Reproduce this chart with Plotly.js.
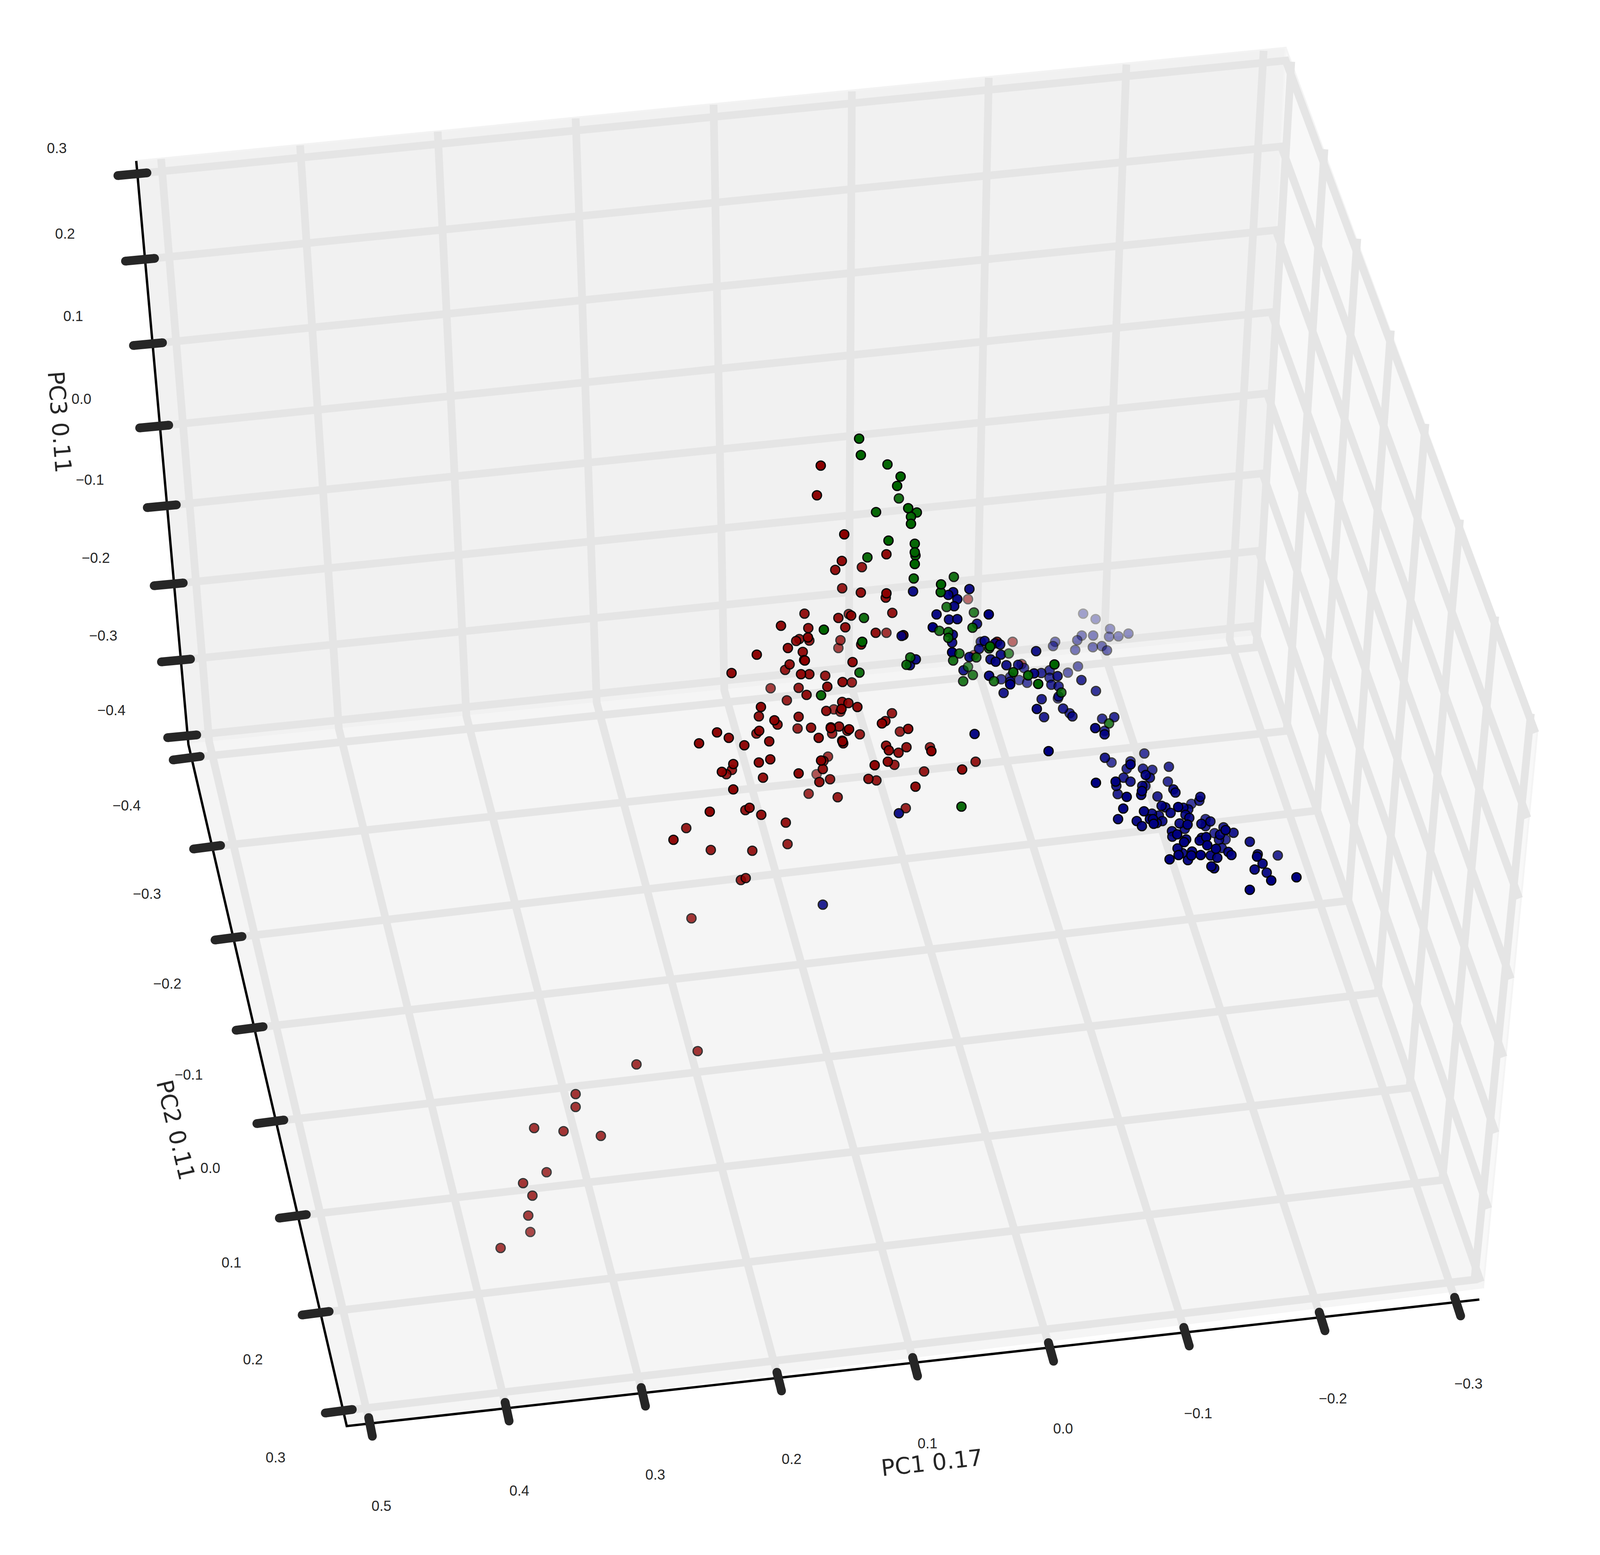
<!DOCTYPE html>
<html>
<head>
<meta charset="utf-8">
<script src="https://cdn.plot.ly/plotly-3.0.1.min.js"></script>
<style>html,body{margin:0;padding:0;background:#fff;overflow:hidden}</style>
</head>
<body>
<div id="chart"></div>
<script>
// Each row: [view-plane x, view-plane y, depth shade]
const redPoints = [
[2374,1192,1],[2363,1268,.97],[2442,1368,1],[2564,1419,.95],[2435,1436,.95],[2416,1459,.92],[2493,1452,.88],[2436,1506,.88],
[2490,1517,.92],[2564,1519,1],[2562,1530,.92],[2581,1569,.9],[2327,1571,.9],[2425,1582,.92],[2455,1572,.8],[2462,1576,.92],
[2445,1606,.92],[2338,1608,.92],[2259,1602,.95],[2533,1620,.92],[2564,1620,.78],[2613,1626,1],[2431,1639,.8],[2425,1659,.72],
[2303,1641,.9],[2312,1636,.88],[2337,1632,.97],[2341,1640,.88],[2279,1659,.95],[2322,1669,.92],[2491,1650,.92],
[2800,1534,.55],[2929,1643,.55],[2884,1643,.9],[2817,1677,.6],[2955,1700,.6],[2690,1913,.85],[2694,1923,1],[2822,1950,.88],
[2328,1691,1],[2326,1690,.95],[2189,1676,.97],[2116,1723,.95],[2284,1701,.92],[2271,1715,.88],[2317,1726,.95],[2341,1726,.92],
[2466,1695,.95],[2387,1730,.88],[2437,1746,.95],[2464,1747,.85],[2393,1758,.95],[2229,1762,.75],[2310,1761,.88],[2333,1779,.92],
[2276,1793,.85],[2436,1797,.92],[2454,1800,.92],[2480,1810,.95],[2390,1820,.92],[2412,1816,.78],[2431,1822,.8],[2434,1815,.97],
[2201,1810,.97],[2195,1834,.92],[2240,1844,.97],[2249,1855,.92],[2310,1835,.92],[2307,1865,.85],[2346,1863,.92],[2403,1864,1],
[2403,1862,.95],[2427,1860,.92],[2407,1878,.85],[2451,1871,.88],[2456,1867,.97],[2487,1880,.88],[2580,1826,.88],[2561,1846,.92],
[2551,1852,.97],[2603,1873,.85],[2627,1866,.95],[2074,1875,.97],[2108,1889,.95],[2022,1903,.97],[2188,1878,.88],[2196,1871,.95],
[2153,1908,.95],[2225,1898,.95],[2368,1889,.95],[2436,1896,.88],[2439,1903,.92],[2437,1898,.98],[2563,1909,.92],[2571,1921,.95],
[2599,1927,.92],[2622,1913,.92],[2568,1950,.95],[2587,1958,.88],[2530,1959,.97],[2395,1937,.78],[2382,1948,.85],[2375,1947,.98],
[2380,1969,.92],[2362,1982,.65],[2310,1980,.97],[2370,2002,.92],[2401,1995,.88],[2512,1994,.92],[2535,1998,.88],[2339,2032,.8],
[2423,2041,.88],[2121,1956,.95],[2117,1971,.88],[2088,1976,.97],[2101,1982,.88],[2195,1952,.95],[2228,1944,.95],[2207,1991,.92],
[2121,2021,.97],[2053,2078,.97],[2156,2074,.9],[2168,2068,.95],[2202,2086,.92],[2273,2106,.9],[1985,2120,.88],[1948,2150,.95],
[2783,1970,.95],[2673,1975,.88],[2648,2014,.95],[2620,2069,.85],[2056,2176,.88],[2176,2178,.88],[2278,2161,.85],[2143,2253,.85],
[2157,2248,.88],[2000,2351,.78],[2018,2691,.78],[1841,2725,.78],[1665,2801,.78],[1665,2834,.78],[1545,2888,.78],[1630,2896,.78],
[1738,2908,.78],[1581,3001,.75],[1513,3029,.78],[1540,3061,.78],[1528,3112,.75],[1534,3154,.7],[1448,3195,.75]
];
const greenPoints = [
[2485,1123,1],[2490,1165,1],[2567,1189,.97],[2605,1220,1],[2595,1244,1],[2600,1276,.9],[2627,1301,1],[2652,1312,.97],
[2635,1323,.97],[2635,1341,1],[2534,1311,.97],[2570,1384,1],[2646,1392,.97],[2646,1414,1],[2648,1422,.97],[2646,1444,1],
[2643,1481,.95],[2509,1427,.95],[2759,1477,.9],[2722,1496,1],[2721,1516,.97],[2738,1554,.85],[2817,1568,.8],[2813,1607,.9],
[2499,1582,.92],[2383,1612,1],[2494,1643,1],[2717,1615,.85],[2743,1618,.9],[2743,1633,.9],[2486,1722,.92],[2375,1780,.95],
[2633,1683,.9],[2622,1702,.9],[2775,1673,.85],[2757,1691,.88],[2824,1683,.85],[2800,1707,.72],[2814,1728,.8],[2786,1744,.85],
[2864,1655,1],[2861,1660,.9],[2918,1673,.7],[3050,1701,1],[2931,1721,.95],[2974,1729,.95],[2875,1744,.85],[3003,1751,1],
[3070,1773,.85],[3208,1852,.8],[2781,2065,.95]
];
const bluePoints = [
[2641,1514,.93],[2804,1508,.93],[2757,1516,.95],[2743,1523,.95],[2769,1534,.95],[2760,1552,.95],[2709,1573,.95],[2745,1586,.92],
[2769,1585,.95],[2860,1573,1],[2826,1597,.88],[2698,1606,1],[2756,1625,.92],[2754,1645,.9],[2754,1670,1],[2608,1628,.9],
[2649,1688,.92],[2632,1703,.9],[2804,1682,.9],[2787,1716,.88],[2837,1643,.75],[2848,1641,.9],[2832,1661,.85],[2878,1647,.85],
[2893,1650,.9],[2895,1676,.9],[2865,1688,.9],[2880,1694,.95],[2911,1703,.9],[2945,1702,.85],[2962,1710,.7],[2991,1724,.95],
[3012,1723,.8],[3036,1716,.75],[3036,1735,.75],[3059,1731,.88],[2861,1730,.95],[2896,1739,.75],[2922,1733,.7],[2922,1752,1],
[2922,1745,.8],[2948,1741,.65],[2971,1748,.7],[3041,1753,.8],[3062,1757,.8],[3062,1783,.8],[3060,1788,.7],[2903,1774,.88],
[3013,1790,.85],[2999,1815,.95],[3020,1836,.85],[3075,1814,.85],[3094,1826,.8],[3102,1834,.85],[2997,1667,.9],[2819,1879,.95],
[3033,1923,1],[3128,1741,.8],[3170,1769,.78],[3188,1840,.78],[3223,1836,.8],[3168,1864,.95],[3195,1871,.8],[3195,1880,.9],
[2600,2082,.92],[2380,2316,.85],
[3133,1571,.33],[3169,1585,.33],[3211,1610,.37],[3129,1627,.45],[3162,1627,.45],[3208,1630,.42],[3235,1629,.42],[3264,1622,.4],
[3052,1643,.5],[3046,1654,.55],[3116,1639,.5],[3110,1664,.5],[3161,1657,.5],[3187,1654,.5],[3202,1665,.55],[3118,1706,.55],[3089,1722,.58],
[3196,1940,.88],[3215,1952,.75],[3310,1929,.75],[3270,1949,.75],[3270,1957,1],[3259,1968,.82],[3250,1991,.85],[3270,2001,.88],
[3227,2001,1],[3229,2012,.88],[3170,2004,1],[3306,1968,.8],[3333,1971,.78],[3314,1984,.92],[3326,1991,.88],[3381,1963,.8],
[3378,2001,.8],[3394,2021,.9],[3400,2029,.9],[3304,2012,.88],[3313,2012,.8],[3303,2025,1],[3301,2035,.95],[3233,2033,.85],
[3259,2040,1],[3348,2039,.85],[3249,2070,.97],[3234,2097,.95],[3309,2077,.97],[3288,2102,.95],[3303,2115,.95],[3332,2083,.9],
[3352,2088,.88],[3326,2097,.95],[3335,2097,1],[3362,2102,.9],[3346,2107,.9],[3337,2109,1],[3360,2063,.92],[3371,2067,.9],
[3386,2081,.92],[3408,2066,1],[3423,2068,.9],[3446,2058,.75],[3437,2072,.88],[3469,2050,.85],[3472,2040,.9],[3429,2086,.9],
[3440,2094,.92],[3412,2108,.92],[3435,2111,1],[3427,2122,.88],[3390,2128,.92],[3391,2142,.92],[3405,2136,1],[3431,2149,.95],
[3425,2156,1],[3406,2172,.95],[3409,2189,1],[3420,2184,.92],[3383,2200,1],[3436,2202,.95],[3448,2180,.95],[3446,2190,1],
[3473,2189,1],[3487,2097,.8],[3475,2109,.92],[3487,2115,.85],[3501,2103,.88],[3470,2152,.95],[3476,2145,.92],[3489,2143,1],
[3492,2164,1],[3513,2133,.8],[3529,2137,.9],[3539,2118,.85],[3545,2125,1],[3568,2132,.88],[3545,2149,.8],[3526,2150,.85],
[3534,2171,.85],[3517,2173,1],[3502,2190,.95],[3521,2196,.95],[3553,2181,.95],[3562,2189,.95],[3504,2218,1],[3512,2223,.95],
[3615,2155,.9],[3638,2187,.9],[3636,2193,1],[3696,2190,.82],[3652,2211,.95],[3629,2226,.95],[3664,2234,.92],[3677,2254,1],
[3750,2246,1],[3615,2278,1]
];

const pc1Ticks = ['0.5','0.4','0.3','0.2','0.1','0.0','\u22120.1','\u22120.2','\u22120.3'];
const pc2Ticks = ['\u22120.4','\u22120.3','\u22120.2','\u22120.1','0.0','0.1','0.2','0.3'];
const pc3Ticks = ['0.3','0.2','0.1','0.0','\u22120.1','\u22120.2','\u22120.3','\u22120.4'];

// Where each tick's grid line runs on the panes
const pc1Front = [[1071,3650],[1466,3611],[1860,3573],[2253,3534],[2646,3496],[3039,3458],[3431,3419],[3823,3380],[4215,3342]];
const pc1Kink  = [[605,1899],[980,1865],[1349,1833],[1726,1799],[2095,1767],[2455,1735],[2824,1702],[3193,1669],[3557,1637]];
const pc1Top   = [[466,407],[868,372],[1266,337],[1665,303],[2064,268],[2464,234],[2860,199],[3258,165],[3655,130]];
const pc2Left  = [[540,1941],[599,2169],[661,2402],[722,2633],[782,2872],[847,3114],[913,3362],[980,3613]];
const pc2Kink  = [[3634,1657],[3722,1871],[3810,2075],[3900,2306],[3985,2542],[4077,2785],[4172,3021],[4265,3276]];
const pc2Top   = [[3735,158],[3831,382],[3926,611],[4023,846],[4123,1085],[4223,1330],[4325,1578],[4428,1827]];
const pc3Left  = [[383,446],[405,665],[428,881],[446,1092],[468,1296],[488,1496],[509,1691],[527,1885]];
const pc3Kink  = [[3719,155],[3706,375],[3690,589],[3677,799],[3665,1007],[3652,1212],[3640,1410],[3625,1603]];
const pc3End   = [[4441,1876],[4418,2094],[4394,2300],[4370,2506],[4349,2706],[4326,2900],[4305,3094],[4283,3282]];

const pc1LabelAt = [[1103,3855],[1502,3816],[1895,3775],[2290,3735],[2683,3695],[3075,3657],[3465,3618],[3855,3580],[4247,3542]];
const pc2LabelAt = [[366,2062],[425,2288],[484,2518],[546,2751],[608,2990],[670,3232],[732,3480],[797,3731]];
const pc3LabelAt = [[164,379],[188,598],[212,809],[236,1021],[260,1228],[277,1428],[298,1627],[322,1818]];

const wallPane  = [[394,412],[3719,122],[3640,1628],[545,1906]];
const floorPane = [[545,1906],[3640,1628],[4290,3296],[1003,3651]];
const sidePane  = [[3719,122],[4447,1870],[4290,3296],[3640,1628]];
const spine     = [[394,412],[545,1906],[1003,3651],[4279,3327]];

const titles = [
  {text:'PC1 0.17', at:[2695,3745], angle:-5.5},
  {text:'PC2 0.11', at:[508,2893], angle:75},
  {text:'PC3 0.11', at:[172,1080], angle:85}
];

// The browser window may be narrower than the reference frame (it is capped), so
// the frame is fitted to the window and sizes follow the average scale.
const REF_W = 4628, REF_H = 3981;
const W = window.innerWidth, H = window.innerHeight;
const SX = W/REF_W, SY = H/REF_H, S = Math.sqrt(SX*SY);
const chartDiv = document.getElementById('chart');
chartDiv.style.width = W+'px';
chartDiv.style.height = H+'px';

function screenAngle(a){
  const r = a*Math.PI/180;
  return Math.atan2(Math.sin(r)*SY, Math.cos(r)*SX)*180/Math.PI;
}
function poly(rows, color, edge){
  const c = rows.concat([rows[0]]);
  return {x:c.map(p=>p[0]), y:c.map(p=>p[1]), mode:'lines', fill:'toself', fillcolor:color,
          line:{color:edge, width:5*S}, hoverinfo:'skip'};
}
function grid(){
  const xs=[], ys=[];
  for (const lists of arguments){
    lists[0].forEach((_,i)=>{
      lists.forEach(l=>{xs.push(l[i][0]); ys.push(l[i][1]);});
      xs.push(null); ys.push(null);
    });
  }
  return {x:xs, y:ys, mode:'lines', line:{color:'#e5e5e5', width:21*S}, hoverinfo:'skip'};
}
function ticks(rows, vecOf, a, b){
  const xs=[], ys=[];
  rows.forEach((p,i)=>{
    const v = vecOf(i);
    xs.push(p[0]+a*v[0], p[0]+b*v[0], null);
    ys.push(p[1]+a*v[1], p[1]+b*v[1], null);
  });
  return {x:xs, y:ys, mode:'lines+markers', line:{color:'#262626', width:24*S},
          marker:{color:'#262626', size:24*S}, hoverinfo:'skip'};
}
function series(rows, color, name){
  const r = rows.slice().sort((a,b)=>a[2]-b[2]);
  return {x:r.map(p=>p[0]), y:r.map(p=>p[1]), mode:'markers', name:name,
    marker:{color:color, size:25*S, opacity:r.map(p=>p[2]), line:{color:'#000', width:3.4*S}}};
}
function labels(texts, rows){
  return texts.map((t,i)=>({text:t, x:rows[i][0], y:rows[i][1], xref:'x', yref:'y', showarrow:false,
    font:{family:'Liberation Sans, Arial, sans-serif', size:39*S, color:'#262626'}}));
}

const data = [
  poly(wallPane,'#f1f1f1','#f3f3f3'),
  poly(floorPane,'#f5f5f5','#f5f5f5'),
  poly(sidePane,'#f8f8f8','#f4f4f4'),
  grid([pc1Front,pc1Kink,pc1Top],[pc2Left,pc2Kink,pc2Top],[pc3Left,pc3Kink,pc3End]),
  {x:spine.map(p=>p[0]), y:spine.map(p=>p[1]), mode:'lines', line:{color:'#000', width:6.5*S}, hoverinfo:'skip'},
  ticks(pc1Front, i=>[5.5+3.5*i/8,24.5], -0.85, 1.1),
  ticks(pc2Left, ()=>[39,-4.5], -1, 1),
  ticks(pc3Left, ()=>[42,-3.5], -1, 1),
  series(redPoints,'#8b0000','red group'),
  series(bluePoints,'#000080','blue group'),
  series(greenPoints,'#006400','green group')
];

const annotations = [].concat(
  labels(pc1Ticks,pc1LabelAt), labels(pc2Ticks,pc2LabelAt), labels(pc3Ticks,pc3LabelAt),
  titles.map(t=>({text:t.text, x:t.at[0], y:t.at[1], xref:'x', yref:'y', showarrow:false, textangle:screenAngle(t.angle),
    font:{family:'DejaVu Sans, sans-serif', size:62*S, color:'#262626'}}))
);

Plotly.newPlot('chart', data, {
  width:W, height:H, showlegend:false,
  margin:{l:0,r:0,t:0,b:0}, paper_bgcolor:'#fff', plot_bgcolor:'#fff',
  xaxis:{range:[0,REF_W], visible:false, fixedrange:true},
  yaxis:{range:[REF_H,0], visible:false, fixedrange:true},
  annotations:annotations
}, {displayModeBar:false});
</script>
</body>
</html>
